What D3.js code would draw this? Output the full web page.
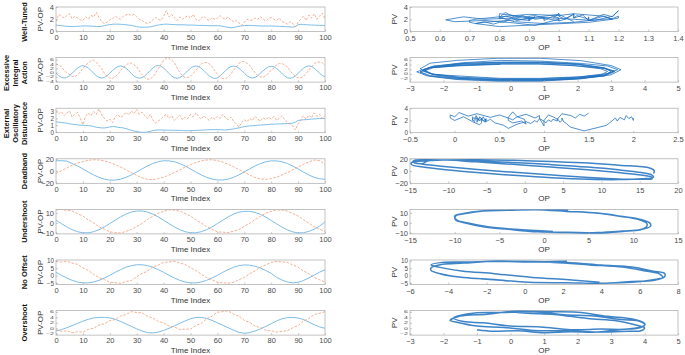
<!DOCTYPE html>
<html><head><meta charset="utf-8">
<script src="https://cdn.jsdelivr.net/npm/d3@7"></script>
<style>
body{margin:0;background:#fff;}
svg{font-family:"Liberation Sans",Arial,Helvetica,sans-serif;}
</style></head><body><svg id="c" width="685" height="355"></svg>
<script>
// ---------- data ----------
const timeFine = d3.range(0, 101);
const timeCoarse = d3.range(0, 101, 2);

const opWellTuned = [1.05,1.0,0.95,0.9,0.85,0.8,0.8,0.82,0.85,0.88,
 0.9,0.92,0.9,0.88,0.85,0.82,0.8,0.85,0.95,1.05,
 1.12,1.18,1.2,1.2,1.18,1.15,1.1,1.05,1.0,0.9,
 0.8,0.72,0.7,0.7,0.72,0.75,0.85,0.95,1.05,1.12,
 1.18,1.2,1.18,1.15,1.12,1.1,1.1,1.1,1.08,1.06,
 1.05,1.05,1.02,1.0,1.0,0.98,0.96,0.95,0.95,0.95,
 0.95,0.92,0.85,0.75,0.68,0.62,0.65,0.75,0.85,0.92,
 0.96,1.0,1.0,0.98,0.95,0.92,0.9,0.9,0.9,0.9,
 0.9,0.88,0.86,0.84,0.82,0.8,0.78,0.75,0.72,0.8,
 1.1,1.18,1.15,1.1,1.08,1.05,1.05,1.02,1.0,1.0,0.98];
const pvWellTuned = [1.6,2.8,2.5,2.2,2.6,2.9,2.1,2.5,2.2,1.9,
 1.8,2.4,2.0,2.6,2.4,3.1,2.3,1.6,1.3,1.5,
 1.9,2.1,2.5,2.2,2.0,2.5,2.7,2.9,2.6,2.8,
 2.4,2.0,1.8,1.5,1.3,1.5,1.9,2.3,2.0,1.8,
 2.5,3.4,2.4,2.8,2.2,1.8,2.4,2.0,2.3,2.6,
 2.2,2.8,2.0,1.7,2.2,2.5,2.0,1.8,2.3,2.0,
 2.2,2.6,2.2,2.0,2.4,1.9,1.6,1.8,1.4,1.0,
 1.5,2.0,1.8,1.9,2.2,2.0,2.4,2.0,1.7,2.1,
 2.3,2.0,1.8,2.2,1.6,1.5,1.2,1.6,1.3,0.8,
 1.5,2.0,2.5,1.8,2.7,2.2,2.9,2.0,2.5,3.0,2.1];

const opIntegral = [-0.3,-1.5,-2.3,-2.6,-2.3,-1.5,-0.3,0.9,2.1,2.9,3.2,
 2.9,2.1,0.9,-0.3,-1.5,-2.3,-2.6,
 -2.3,-1.5,-0.3,0.9,2.0,2.8,3.1,
 2.8,2.0,0.9,-0.4,-1.6,-2.4,-2.7,
 -2.4,-1.6,-0.4,0.9,2.1,3.0,3.3,
 3.0,2.1,0.9,-0.4,-1.6,-2.4,-2.7,
 -2.4,-1.6,-0.4,0.9,2.0,2.8,3.1,
 2.8,2.0,0.9,-0.4,-1.6,-2.4,-2.8,
 -2.5,-1.6,-0.4,0.9,2.0,2.8,3.0,
 2.8,2.0,0.9,-0.3,-1.5,-2.3,-2.6,
 -2.3,-1.5,-0.3,0.8,1.9,2.7,2.9,
 2.7,1.9,0.8,-0.4,-1.6,-2.4,-2.7,
 -2.4,-1.6,-0.4,0.9,2.0,2.8,3.1,
 2.8,2.0,0.9,-0.3,-1.4,-2.0];
const pvIntegral = [4.1,3.5,2.7,1.1,-0.2,-0.9,-1.9,-1.9,-1.2,0.2,
 1.8,3.4,4.5,5.5,5.8,4.7,3.2,1.9,-0.4,-1.9,
 -2.7,-2.7,-2.0,-0.9,0.9,2.4,3.4,4.4,4.4,3.7,
 2.7,0.7,-1.0,-2.4,-3.1,-3.1,-2.1,-0.4,1.8,3.6,
 5.7,6.7,6.7,5.8,4.6,2.2,0.1,-1.5,-2.4,-2.4,
 -1.7,-0.4,1.2,2.3,4.0,4.7,4.7,4.0,2.9,0.9,
 -0.8,-2.2,-2.9,-2.9,-2.1,-0.7,1.1,2.6,4.3,5.1,
 5.1,4.4,3.4,1.5,-0.1,-1.4,-2.1,-2.1,-1.5,-0.4,
 1.1,2.2,3.6,4.2,4.2,3.6,2.6,0.9,-0.7,-1.9,
 -2.5,-2.5,-1.8,-0.5,1.2,2.6,4.2,4.9,4.9,4.6,3.4];

const opExternal = [1.5,1.45,1.4,1.35,1.3,1.2,1.15,1.1,1.05,1.0,
 1.0,0.95,0.95,0.9,0.8,0.7,0.65,0.6,0.6,0.65,
 0.75,0.8,0.78,0.7,0.65,0.6,0.5,0.4,0.25,0.15,
 0.05,0.0,-0.05,-0.05,0.0,0.1,0.2,0.28,0.3,0.3,
 0.3,0.28,0.27,0.26,0.25,0.25,0.24,0.22,0.2,0.2,
 0.2,0.22,0.24,0.26,0.28,0.3,0.32,0.34,0.35,0.35,
 0.35,0.34,0.32,0.3,0.35,0.4,0.45,0.55,0.6,0.7,
 0.8,0.85,0.9,0.92,0.95,1.0,1.02,1.05,1.08,1.1,
 1.15,1.15,1.18,1.2,1.2,1.22,1.25,1.28,1.3,1.45,
 1.7,1.75,1.8,1.82,1.85,1.9,1.92,1.95,1.98,2.0,2.0];
const pvExternal = [3.2,2.7,3.0,2.4,2.8,3.1,2.2,2.6,2.9,2.0,
 1.1,2.3,2.8,2.4,3.0,2.6,3.4,2.5,2.0,1.6,
 1.9,1.4,2.2,2.6,2.1,2.4,2.9,2.5,3.1,2.7,
 3.3,2.6,2.9,2.4,2.0,2.6,1.8,1.3,1.6,1.9,
 2.3,2.6,2.0,2.4,1.7,2.1,2.5,1.8,2.2,2.0,
 2.6,2.2,2.8,2.3,1.9,2.4,2.0,1.7,2.2,1.9,
 2.3,2.0,2.6,2.1,1.8,2.2,1.6,1.2,0.7,1.4,
 1.8,1.5,2.0,1.7,2.3,1.9,1.6,2.1,1.8,2.2,
 1.9,2.3,1.7,2.0,2.4,1.8,1.5,1.1,0.9,0.3,
 1.2,1.8,2.4,1.9,2.5,2.1,2.8,2.3,2.6,2.0,2.4];

const opDeadband = [16.8,16.9,16.3,12.3,8.3,3.5,-1.5,-6.3,-10.3,-13.3,-14.8,
 -14.8,-13.3,-10.3,-6.3,-1.5,3.5,8.3,12.3,15.3,16.8,
 16.6,15.2,12.2,8.2,3.4,-1.6,-6.3,-10.2,-13.1,-14.5,
 -14.6,-13.2,-10.2,-6.2,-1.4,3.6,8.3,12.2,15.2,16.6,
 16.6,15.2,12.2,8.2,3.4,-1.6,-6.4,-10.2,-12.5,-13.5];
const pvDeadband = [-4,0.5,5,9.5,13,15.5,17.5,18.5,18,16.5,
 14,10.5,6.5,2,-2.5,-7,-11,-13.5,-14,-12.5,
 -10,-6.5,-2.5,2,6.5,10.5,14,16.5,18,18.5,
 17,14.5,11,7,2.5,-2,-6.5,-10.5,-13,-13.5,
 -12.5,-10,-6.5,-2.5,2,6.5,11,15,18,17,11];

const opUndershoot = [2.7,-0.7,-4.0,-6.8,-8.8,-9.9,-9.9,-8.8,-6.8,-4.0,-0.7,
 2.7,6.0,8.8,10.8,11.9,11.9,10.8,8.8,6.0,2.7,
 -0.7,-4.0,-6.8,-8.8,-9.9,-9.9,-8.8,-6.8,-4.0,-0.7,
 2.7,6.0,8.8,10.8,11.5,11.5,10.5,8.6,5.8,2.5,
 -0.9,-4.2,-7.0,-9.0,-10.0,-9.8,-8.5,-6.3,-3.2,1.0];
const pvUndershoot = [13.0,13.4,12.6,11.9,9.3,6.9,3.0,-0.1,-3.9,-6.4,-8.9,
 -9.7,-10.1,-8.5,-6.8,-3.5,-0.6,3.5,6.4,9.8,11.5,
 13.1,12.7,11.9,9.4,6.9,3.1,-0.1,-3.9,-6.4,-8.9,
 -9.3,-9.7,-8.2,-6.6,-3.4,-0.4,3.5,6.5,9.8,11.5,
 13.1,12.7,11.9,9.4,6.9,3.1,-0.1,-3.9,-6.4,-8.5];

const opNoOffset = [2.2,0.2,-1.6,-3.2,-4.3,-4.9,-4.9,-4.3,-3.2,-1.6,0.2,
 2.2,4.0,5.6,6.7,7.3,7.3,6.7,5.6,4.0,2.2,
 0.2,-1.6,-3.2,-4.3,-4.9,-4.9,-4.3,-3.2,-1.6,0.2,
 2.2,4.0,5.6,6.7,7.2,7.0,6.3,5.1,3.4,1.5,
 -1.2,-3.0,-4.3,-4.9,-4.5,-3.3,-1.6,0.4,2.3,3.9];
const pvNoOffset = [9.6,9.1,9.7,8.4,7.6,5.2,3.5,0.8,-1.3,-2.7,-4.5,
 -4.8,-5.2,-4.0,-3.3,-0.8,1.4,3.0,5.8,7.1,8.9,
 9.2,9.6,8.5,7.6,5.2,3.5,0.9,-1.3,-2.8,-4.5,
 -4.8,-5.1,-4.5,-2.8,-1.3,1.3,3.1,5.7,7.2,8.9,
 9.6,9.2,8.9,7.2,5.7,3.1,1.3,-1.3,-2.8,-4.4];

const opOvershoot = [-1.0,-0.5,0.2,1.0,1.8,2.6,3.3,3.8,4.0,4.0,3.8,
 3.3,2.5,1.6,0.7,-0.2,-1.0,-1.6,-1.7,-1.4,-0.8,
 0.0,0.9,1.8,2.7,3.5,4.0,4.0,3.6,2.9,2.0,
 1.1,0.2,-0.7,-1.5,-1.8,-1.6,-1.0,-0.2,0.7,1.7,
 2.7,3.5,3.9,4.0,3.8,3.2,2.3,1.3,0.5,0.0];
const pvOvershoot = [-0.5,-1.1,-0.9,-1.6,-1.3,-1.4,-0.4,0.0,1.2,1.6,2.8,
 3.2,4.5,5.0,6.1,5.8,5.7,4.4,3.8,2.5,2.0,
 0.8,0.5,-0.5,-0.3,-0.3,1.0,1.8,3.5,4.4,5.9,
 6.1,6.4,5.2,4.5,2.9,2.2,0.8,0.3,-0.8,-0.9,
 -1.4,-1.1,-0.9,0.2,1.0,2.7,3.6,5.1,5.5,6.1];

const conditionLabels = [["Well-Tuned"],["Excessive","Integral","Action"],["External","Oscillatory","Disturbance"],["Deadband"],["Undershoot"],["No Offset"],["Overshoot"]];
const timeTicks = [0,10,20,30,40,50,60,70,80,90,100];
const pvOpTicks = [[0,2,4],[-4,-2,0,2,4,6],[0,1,2,3],[-20,0,20],[-10,0,10],[-5,0,5,10],[-2,0,2,4,6]];
const pvOpDomains = [[0,4],[-4.5,7],[-0.1,3.5],[-20,20],[-11,13.5],[-6,10.5],[-2.5,6.5]];
const opDomains = [[0.5,1.4],[-3,5],[-0.5,2.5],[-15,20],[-15,15],[-6,8],[-3,5]];
const opTicks = [[0.5,0.6,0.7,0.8,0.9,1,1.1,1.2,1.3,1.4],[-3,-2,-1,0,1,2,3,4,5],[-0.5,0,0.5,1,1.5,2,2.5],[-15,-10,-5,0,5,10,15,20],[-15,-10,-5,0,5,10,15],[-6,-4,-2,0,2,4,6,8],[-3,-2,-1,0,1,2,3,4,5]];
const pvTicks = [[0,2,4],[-2,0,2,4,6],[0,2,4],[-20,0,20],[-10,0,10],[-5,0,5,10],[-2,0,2,4,6]];
const pvDomains = [[0,4],[-3.5,7],[0,4],[-20,20],[-11,13.5],[-6,10.5],[-2.5,6.5]];
const squishedTicks = [false,true,false,false,false,false,true];

const series = [
 {t: timeFine, op: opWellTuned, pv: pvWellTuned},
 {t: timeFine, op: opIntegral, pv: pvIntegral},
 {t: timeFine, op: opExternal, pv: pvExternal},
 {t: timeCoarse, op: opDeadband, pv: pvDeadband},
 {t: timeCoarse, op: opUndershoot, pv: pvUndershoot},
 {t: timeCoarse, op: opNoOffset, pv: pvNoOffset},
 {t: timeCoarse, op: opOvershoot, pv: pvOvershoot}
];

// ---------- drawing ----------
const svg = d3.select("#c");
const boxColor = "#a8a8a8", tickText = "#4a4a4a", labelText = "#333";
const blueLight = "#7dbde8", orange = "#f29a7a", blueDark = "#1c6fbd";
const rowStep = 50.6, rowTop = 7, rowH = 24.5;
const L0 = 56, L1 = 325, R0 = 410, R1 = 678;
const fmt = d3.format("~g");

function styleAxis(g, squish, small) {
  g.select(".domain").remove();
  g.selectAll(".tick line").attr("stroke", boxColor).attr("stroke-width", 0.6);
  g.selectAll(".tick text").attr("fill", tickText).style("font-size", small ? "6.3px" : "7.5px");
  if (squish) {
    g.selectAll(".tick text").style("font-size", "7px").attr("transform", "scale(1,0.45)");
  }
}

series.forEach((s, i) => {
  const top = rowTop + i * rowStep, bot = top + rowH;
  const smallY = (i === 2 || i === 5);

  // ---- left: time series ----
  const x = d3.scaleLinear().domain([0, 100]).range([L0, L1]);
  const y = d3.scaleLinear().domain(pvOpDomains[i]).range([bot, top]);
  const clipId = "cl" + i;
  svg.append("clipPath").attr("id", clipId).append("rect")
    .attr("x", L0).attr("y", top).attr("width", L1 - L0).attr("height", rowH);

  const gl = svg.append("g");
  gl.append("rect").attr("x", L0).attr("y", top).attr("width", L1 - L0).attr("height", rowH)
    .attr("fill", "#fff").attr("stroke", boxColor).attr("stroke-width", 0.7);

  const data = s.t.map((t, k) => ({t, op: s.op[k], pv: s.pv[k]}));
  const lg = gl.append("g").attr("clip-path", `url(#${clipId})`);
  lg.append("path").datum(data)
    .attr("d", d3.line().x(d => x(d.t)).y(d => y(d.op)))
    .attr("fill", "none").attr("stroke", blueLight).attr("stroke-width", 1);
  lg.append("path").datum(data)
    .attr("d", d3.line().x(d => x(d.t)).y(d => y(d.pv)))
    .attr("fill", "none").attr("stroke", orange).attr("stroke-width", 0.8)
    .attr("stroke-dasharray", "2.5,1.5");

  gl.append("g").attr("transform", `translate(0,${bot})`)
    .call(d3.axisBottom(x).tickValues(timeTicks).tickFormat(fmt).tickSizeInner(-2).tickSizeOuter(0).tickPadding(3))
    .call(g => styleAxis(g, false, false));
  gl.append("g").attr("transform", `translate(${L0},0)`)
    .call(d3.axisLeft(y).tickValues(pvOpTicks[i]).tickFormat(fmt).tickSizeInner(-2).tickSizeOuter(0).tickPadding(2))
    .call(g => styleAxis(g, squishedTicks[i], smallY));

  gl.append("text").attr("x", (L0 + L1) / 2).attr("y", bot + 18)
    .attr("text-anchor", "middle").attr("fill", labelText).style("font-size", "8px").text("Time Index");
  gl.append("text").attr("transform", `translate(43,${top + rowH / 2}) rotate(-90)`)
    .attr("text-anchor", "middle").attr("fill", labelText).style("font-size", "8px").text("PV-OP");

  // condition label
  const lines = conditionLabels[i];
  const xs = lines.length === 1 ? [24] : [6, 15, 24];
  const cy = lines.length === 1 ? Math.max(top + rowH / 2, 22) : top + rowH / 2 + 3;
  lines.forEach((ln, j) => {
    svg.append("text").attr("transform", `translate(${xs[j] + 3},${cy}) rotate(-90)`)
      .attr("text-anchor", "middle").attr("fill", "#111")
      .style("font-size", "7.5px").style("font-weight", "bold").text(ln);
  });

  // ---- right: phase plot PV vs OP ----
  const xr = d3.scaleLinear().domain(opDomains[i]).range([R0, R1]);
  const yr = d3.scaleLinear().domain(pvDomains[i]).range([bot, top]);
  const clipR = "cr" + i;
  svg.append("clipPath").attr("id", clipR).append("rect")
    .attr("x", R0).attr("y", top).attr("width", R1 - R0).attr("height", rowH);
  const gr = svg.append("g");
  gr.append("rect").attr("x", R0).attr("y", top).attr("width", R1 - R0).attr("height", rowH)
    .attr("fill", "#fff").attr("stroke", boxColor).attr("stroke-width", 0.7);
  const pl = d3.line().x(d => xr(d.op)).y(d => yr(d.pv));
  if (i >= 3) pl.curve(d3.curveCatmullRom);
  gr.append("g").attr("clip-path", `url(#${clipR})`)
    .append("path").datum(data)
    .attr("d", pl)
    .attr("fill", "none").attr("stroke", blueDark).attr("stroke-width", i >= 3 ? 1.5 : 0.9)
    .attr("stroke-opacity", 0.85).attr("stroke-linejoin", "round");

  gr.append("g").attr("transform", `translate(0,${bot})`)
    .call(d3.axisBottom(xr).tickValues(opTicks[i]).tickFormat(fmt).tickSizeInner(-2).tickSizeOuter(0).tickPadding(4))
    .call(g => styleAxis(g, false, false));
  gr.append("g").attr("transform", `translate(${R0},0)`)
    .call(d3.axisLeft(yr).tickValues(pvTicks[i]).tickFormat(fmt).tickSizeInner(-2).tickSizeOuter(0).tickPadding(2))
    .call(g => styleAxis(g, squishedTicks[i], smallY));

  gr.append("text").attr("x", (R0 + R1) / 2).attr("y", bot + 18)
    .attr("text-anchor", "middle").attr("fill", labelText).style("font-size", "8px").text("OP");
  gr.append("text").attr("transform", `translate(397,${top + rowH / 2}) rotate(-90)`)
    .attr("text-anchor", "middle").attr("fill", labelText).style("font-size", "8px").text("PV");
});
</script></body></html>
